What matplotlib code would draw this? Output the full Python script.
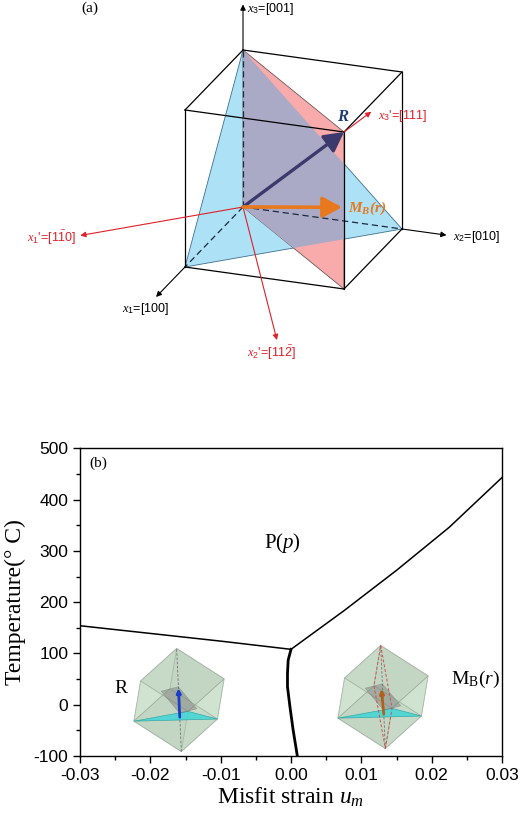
import itertools
import numpy as np
import matplotlib
matplotlib.use('Agg')
import matplotlib.pyplot as plt
from matplotlib.patches import Polygon, FancyArrowPatch

plt.rcParams['font.family'] = 'Liberation Sans'
plt.rcParams['mathtext.fontset'] = 'custom'
plt.rcParams['mathtext.rm'] = 'Liberation Serif'
plt.rcParams['mathtext.it'] = 'Liberation Serif:italic'
plt.rcParams['mathtext.bf'] = 'Liberation Serif:bold'
plt.rcParams['mathtext.bfit'] = 'Liberation Serif:italic:bold'
plt.rcParams['mathtext.sf'] = 'Liberation Sans'
plt.rcParams['axes.unicode_minus'] = False

# ---- panel (b): phase boundaries, misfit strain vs temperature
um_pr = [-0.03, -0.02, -0.01, 0.0]
T_pr  = [154, 139, 124, 108]
um_pm = [0.0, 0.0075, 0.015, 0.0225, 0.03]
T_pm  = [108, 183, 262, 346, 443]
um_rm = [0.0, -0.0004, -0.0005, -0.0005, -0.00015, 0.0003, 0.0009]
T_rm  = [108, 87, 61, 35, -4, -49, -100]

x_ticks = [-0.03, -0.02, -0.01, 0.0, 0.01, 0.02, 0.03]
y_ticks = [-100, 0, 100, 200, 300, 400, 500]

# ---- panel (a): crystal directions (cube units)
corners    = list(itertools.product([0, 1], repeat=3))
plane_111  = [(1, 0, 0), (0, 1, 0), (0, 0, 1)]
plane_1m10 = [(0, 0, 0), (0, 0, 1), (1, 1, 1), (1, 1, 0)]
plane_gray = [(0.268, 0.732, 0.732), (0.628, 0.628, 0.628),
              (0.732, 0.268, 0.268), (0.372, 0.372, 0.372)]
P_R  = (1, 1, 1)
P_MB = (0.98, 0.98, 0.51)

RED    = '#e0202a'
ORANGE = '#e8781e'
NAVY   = '#3c3a6c'

# oblique projection of the big cube, in pixels of the upper panel
origin_px = np.array([243.0, 207.0])
basis_px  = np.array([[-58.0, 60.0], [159.0, 22.0], [0.0, -157.0]])


def to_px(p):
    return origin_px + np.asarray(p, float) @ basis_px


def edges_of_cube():
    out = []
    for a, b in itertools.combinations(corners, 2):
        if sum(abs(i - j) for i, j in zip(a, b)) == 1:
            out.append((a, b))
    return out


def arrow(ax, p0, p1, color, lw, scale, head='-|>', z=5):
    ar = FancyArrowPatch(p0, p1, arrowstyle=head, mutation_scale=scale,
                         color=color, lw=lw, shrinkA=0, shrinkB=0,
                         zorder=z)
    ax.add_patch(ar)


fig = plt.figure(figsize=(5.2, 8.22), dpi=100)

# ===================== (a) =====================
ax_a = fig.add_axes([0, 1 - 370 / 822, 1, 370 / 822])
ax_a.set_xlim(0, 520)
ax_a.set_ylim(370, 0)
ax_a.axis('off')

blue = Polygon([to_px(p) for p in plane_111], closed=True,
               fc='#ade1f5', ec='#3f6f8f', lw=0.6, zorder=1)
pink = Polygon([to_px(p) for p in plane_1m10], closed=True,
               fc='#f9abab', ec='#6a5a5a', lw=0.6, zorder=1)
both = Polygon([to_px(p) for p in plane_1m10], closed=True,
               fc='#abaac6', ec='none', zorder=2)
ax_a.add_patch(blue)
ax_a.add_patch(pink)
ax_a.add_patch(both)
both.set_clip_path(blue)

for a, b in edges_of_cube():
    pa, pb = to_px(a), to_px(b)
    hidden = (0, 0, 0) in (a, b)
    ax_a.plot([pa[0], pb[0]], [pa[1], pb[1]],
              color='#1a2a40' if hidden else 'black',
              lw=0.9, ls=(0, (5, 3)) if hidden else '-', zorder=3)

# coordinate axes and the rotated frame
arrow(ax_a, to_px((1, 0, 0)), to_px((1.5, 0, 0)), 'black', 0.8, 8)
arrow(ax_a, to_px((0, 1, 0)), to_px((0, 1.28, 0)), 'black', 0.8, 8)
arrow(ax_a, to_px((0, 0, 1)), to_px((0, 0, 1.29)), 'black', 0.8, 8)
arrow(ax_a, to_px((0, 0, 0)), to_px(0.75 * np.array([1, -1, 0])), RED, 0.8, 8)
arrow(ax_a, to_px((0, 0, 0)), to_px(0.336 * np.array([1, 1, -2])), RED, 0.8, 8)
arrow(ax_a, to_px(P_R), to_px(1.27 * np.array(P_R)), RED, 0.8, 8)
arrow(ax_a, to_px((0, 0, 0)), to_px(P_R), NAVY, 2.4, 9,
      head='-|>,head_length=1.3,head_width=0.7', z=6)
arrow(ax_a, to_px((0, 0, 0)), to_px(P_MB), ORANGE, 2.6, 9,
      head='-|>,head_length=1.3,head_width=0.7', z=6)

lab = dict(fontsize=9, va='center', ha='left')
ax_a.text(247, 9, r'$x_\mathsf{3}$=[001]', color='black', **lab)
ax_a.text(453, 237, r'$x_\mathsf{2}$=[010]', color='black', **lab)
ax_a.text(122, 309, r'$x_\mathsf{1}$=[100]', color='black', **lab)
ax_a.text(378, 116, r"$x_\mathsf{3}$'=[111]", color=RED, **lab)
ax_a.text(27, 238, r"$x_\mathsf{1}$'=[1$\bar{\mathsf{1}}$0]", color=RED, **lab)
ax_a.text(247, 353, r"$x_\mathsf{2}$'=[11$\bar{\mathsf{2}}$]", color=RED, **lab)
ax_a.text(343, 117, 'R', color='#203b73', fontsize=12, family='Liberation Serif',
          style='italic', weight='bold', ha='center', va='center')
ax_a.text(348, 208, r'$\mathbfit{M_B(r)}$', color=ORANGE, fontsize=11,
          ha='left', va='center')
ax_a.text(90, 8, '(a)', fontsize=11, family='Liberation Serif',
          ha='center', va='center')

# ===================== (b) =====================
ax_b = fig.add_axes([80 / 520, 66 / 822, 422 / 520, 307.7 / 822])
ax_b.plot(um_pr, T_pr, color='black', lw=1.1)
ax_b.plot(um_pm, T_pm, color='black', lw=1.1)
ax_b.plot(um_rm, T_rm, color='black', lw=2.0)
ax_b.set_xlim(-0.03, 0.03)
ax_b.set_ylim(-100, 500)
ax_b.set_xticks(x_ticks)
ax_b.set_xticklabels([f'{v:.2f}' for v in x_ticks])
ax_b.set_yticks(y_ticks)
ax_b.set_xticks(np.arange(-0.03, 0.0301, 0.005), minor=True)
ax_b.set_yticks(np.arange(-100, 501, 50), minor=True)
ax_b.tick_params(which='major', direction='out', length=5, width=1,
                 labelsize=12.5)
ax_b.tick_params(which='minor', direction='out', length=3, width=1)
for s in ax_b.spines.values():
    s.set_linewidth(1.0)
ax_b.set_xlabel(r'Misfit strain $u_m$', family='Liberation Serif', fontsize=17,
                labelpad=2)
ax_b.set_ylabel('Temperature(° C)', family='Liberation Serif', fontsize=17,
                labelpad=5)

serif = dict(family='Liberation Serif', ha='center', va='center')
ax_b.text(-0.0286, 471, '(b)', fontsize=11, **dict(serif, ha='left'))
ax_b.text(-0.0012, 315, r'P($p$)', fontsize=15, **serif)
ax_b.text(-0.0242, 32, 'R', fontsize=14, **serif)
ax_b.text(0.0262, 50, r'M$_\mathrm{B}$($r$)', fontsize=14, **serif)


# ---- small cubes seen roughly along [111]
def view_matrix(theta, phi, psi):
    u = np.array([1, 1, 1]) / np.sqrt(3)
    a = np.array([1, -1, 0]) / np.sqrt(2)
    b = np.array([1, 1, -2]) / np.sqrt(6)
    t, p, r = np.radians([theta, phi, psi])
    h = np.cos(t) * a + np.sin(t) * b
    d = -np.sin(t) * a + np.cos(t) * b
    v = np.cos(p) * u + np.sin(p) * d
    rot = np.array([[np.cos(r), -np.sin(r)], [np.sin(r), np.cos(r)]])
    return rot @ np.vstack([h, v]), np.cross(h, v)


def cube_inset(cx, cy, arrow_end, arrow_color, red_plane):
    ax = fig.add_axes([(cx - 60) / 520, (822 - cy - 60) / 822, 120 / 520, 120 / 822])
    ax.set_xlim(-1, 1)
    ax.set_ylim(-1, 1)
    ax.axis('off')
    M, w = view_matrix(-10, -6.5, 2.6)

    def pr(p):
        return M @ (np.asarray(p, float) - 0.5)

    light = np.array([0.86, 0.97, 0.86])
    dark = np.array([0.58, 0.68, 0.58])
    for k in range(3):
        i, j = [m for m in range(3) if m != k]
        n = np.zeros(3)
        n[k] = 1
        s = abs(n @ w)
        col = light * (1 - s) + dark * s
        for val in (0, 1):
            pts = []
            for qi, qj in [(0, 0), (1, 0), (1, 1), (0, 1)]:
                q = np.zeros(3)
                q[k], q[i], q[j] = val, qi, qj
                pts.append(pr(q))
            ax.add_patch(Polygon(pts, closed=True, fc=col, alpha=0.45,
                                 ec='#8a9a8a', lw=0.6, zorder=1))
    ax.add_patch(Polygon([pr(p) for p in plane_111], closed=True,
                         fc='#3fd6d6', alpha=0.85, ec='#2aa0a0', lw=0.5, zorder=2))
    ax.add_patch(Polygon([pr(p) for p in plane_gray], closed=True,
                         fc='#7a7a7a', alpha=0.45, ec='#6a6a6a', lw=0.4, zorder=2))
    top, bot = pr((1, 1, 1)), pr((0, 0, 0))
    ax.plot([bot[0], top[0]], [bot[1], top[1]], color='#707070', lw=0.6,
            ls=(0, (3, 2)), zorder=3)
    if red_plane:
        pts = [pr(p) for p in plane_1m10] + [pr(plane_1m10[0])]
        ax.plot([p[0] for p in pts], [p[1] for p in pts], color='#d05050',
                lw=0.7, ls=(0, (3, 2)), zorder=3)
    start = np.array([1, 1, 1]) / 3
    arrow(ax, pr(start), pr(start + np.asarray(arrow_end)), arrow_color, 2.0, 6, z=4)


cube_inset(179, 700, 0.28 * np.array(P_R), '#1a3cc8', False)
cube_inset(383, 697, 0.3 * np.array([1, 1, 0.52]), '#b0601a', True)

fig.savefig('out.png', dpi=100)
